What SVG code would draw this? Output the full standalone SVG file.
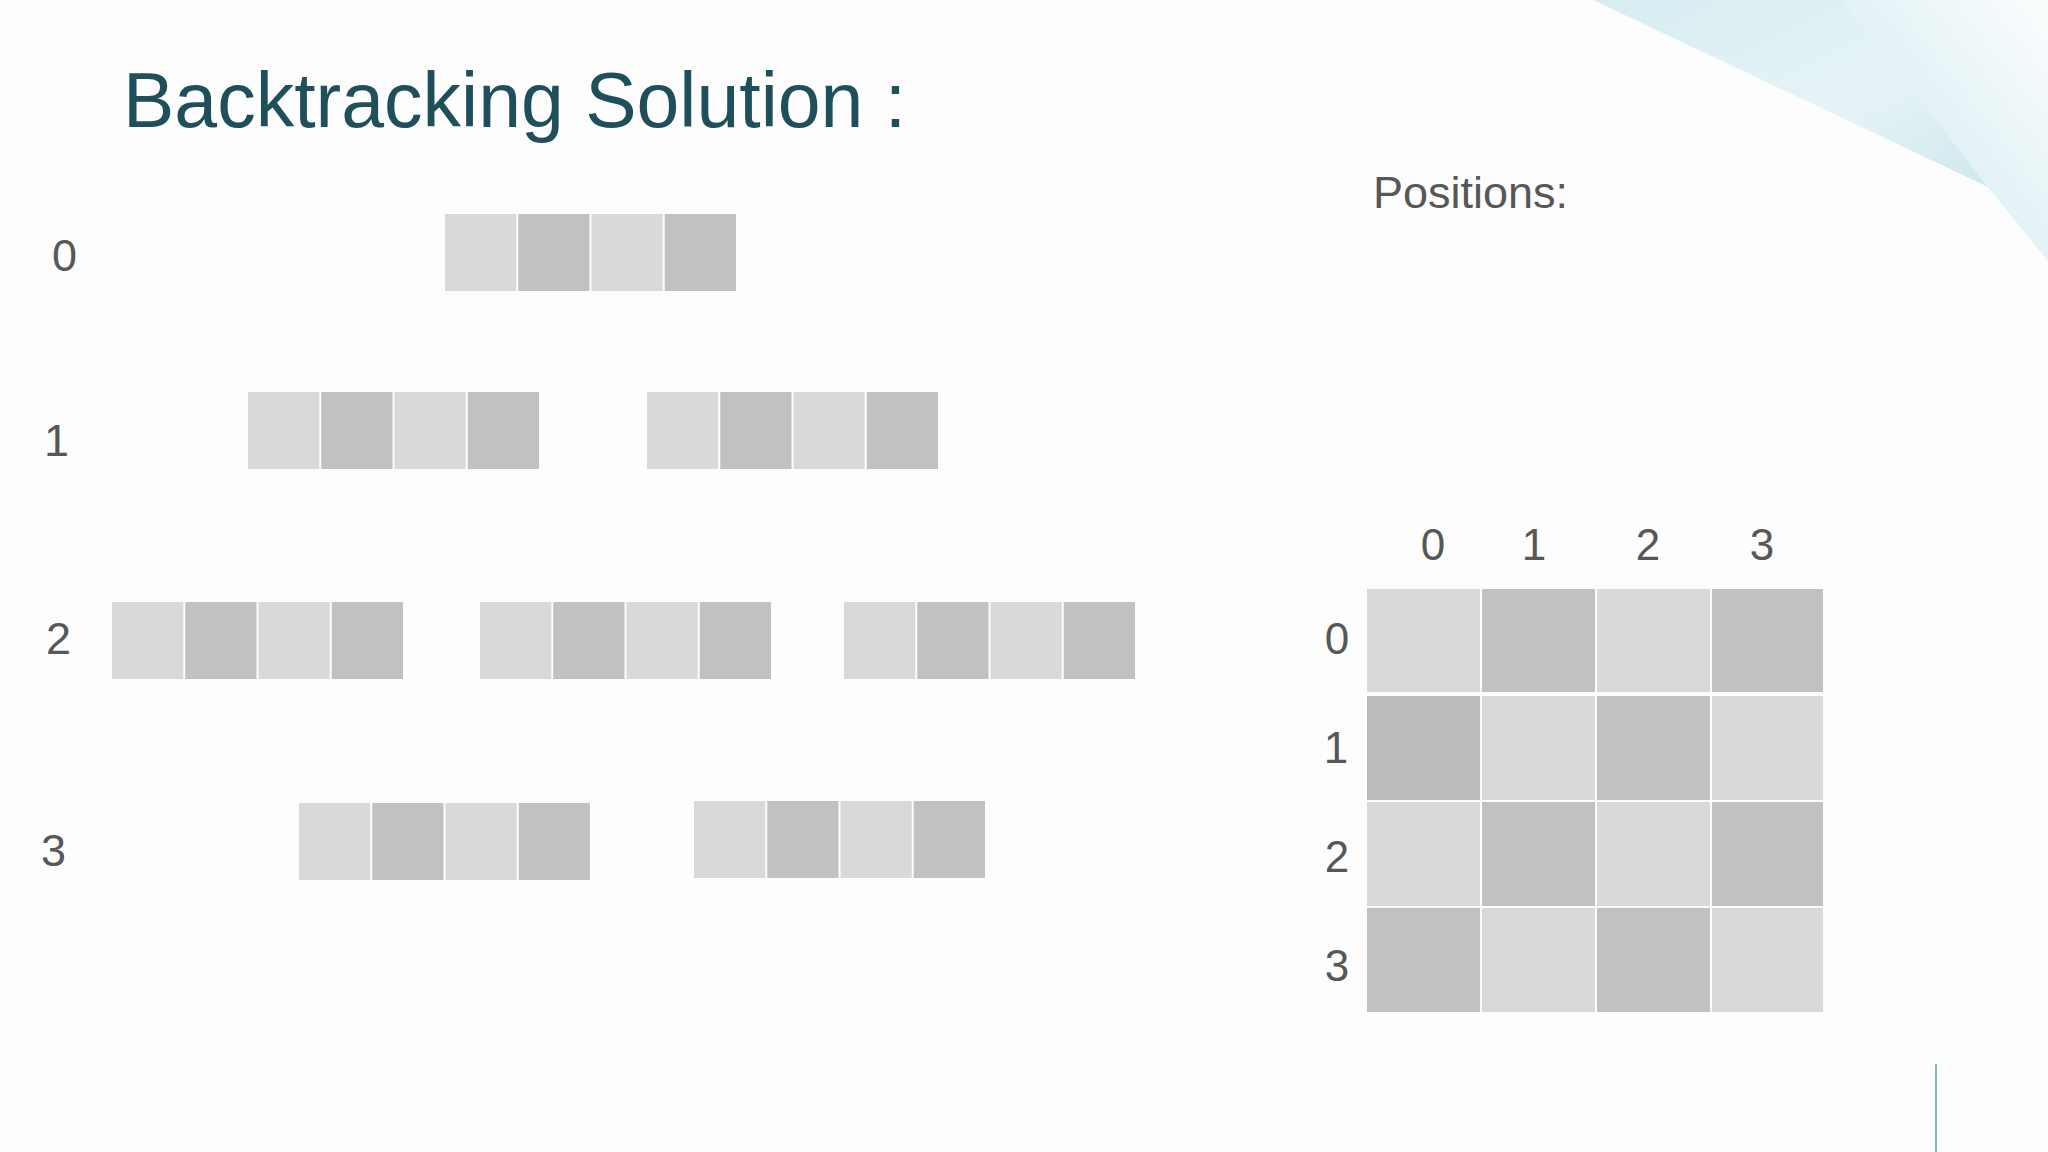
<svg xmlns="http://www.w3.org/2000/svg" xmlns:xlink="http://www.w3.org/1999/xlink" width="2048" height="1152" viewBox="0 0 2048 1152">
  <style>
    .t { font-family: "Liberation Sans", Arial, sans-serif; }
    .title { font-size: 77px; fill: #1e4f5b; }
    .lab { font-size: 45px; fill: #575757; }
    .glab { font-size: 44px; fill: #575757; }
    .pos { font-size: 45px; fill: #575757; }
    .l { fill: #d9d8db; }
    .d { fill: #c1c0c3; }
    .d2 { fill: #bbbabd; }
  </style>
  <defs>
    <linearGradient id="gA" x1="0" y1="0" x2="1" y2="1">
      <stop offset="0" stop-color="#d7edf2"/>
      <stop offset="0.6" stop-color="#e6f3f6"/>
      <stop offset="1" stop-color="#cfe8ee"/>
    </linearGradient>
    <linearGradient id="gB" x1="1" y1="0" x2="0" y2="1">
      <stop offset="0" stop-color="#fbfdfe"/>
      <stop offset="0.5" stop-color="#e3f2f5"/>
      <stop offset="1" stop-color="#c3e3ea"/>
    </linearGradient>
    <g id="strip">
      <rect class="l" x="0" y="0" width="71.25" height="77"/>
      <rect class="d" x="73.25" y="0" width="71.25" height="77"/>
      <rect class="l" x="146.5" y="0" width="71.25" height="77"/>
      <rect class="d" x="219.75" y="0" width="71.25" height="77"/>
    </g>
  </defs>

  <rect x="0" y="0" width="2048" height="1152" fill="#fdfdfd"/>

  <g id="decoration">
    <polygon points="1593,0 1843,0 1988,187" fill="url(#gA)"/>
    <polygon points="1843,0 2048,0 2048,261 1988,187" fill="url(#gB)"/>
    <line x1="1936" y1="1064" x2="1936" y2="1152" stroke="#4aa3b5" stroke-width="1.5"/>
  </g>

  <g id="title">
    <text class="t title" x="123" y="127">Backtracking Solution :</text>
  </g>

  <g id="level-labels">
    <text class="t lab" x="52" y="271">0</text>
    <text class="t lab" x="44" y="456">1</text>
    <text class="t lab" x="46" y="654">2</text>
    <text class="t lab" x="41" y="866">3</text>
  </g>

  <g id="level0">
    <use id="n0" href="#strip" x="445" y="214"/>
  </g>
  <g id="level1">
    <use id="n1a" href="#strip" x="248" y="392"/>
    <use id="n1b" href="#strip" x="647" y="392"/>
  </g>
  <g id="level2">
    <use id="n2a" href="#strip" x="112" y="602"/>
    <use id="n2b" href="#strip" x="480" y="602"/>
    <use id="n2c" href="#strip" x="844" y="602"/>
  </g>
  <g id="level3">
    <use id="n3a" href="#strip" x="299" y="803"/>
    <use id="n3b" href="#strip" x="694" y="801"/>
  </g>

  <g id="positions">
    <text class="t pos" x="1373" y="208">Positions:</text>
  </g>

  <g id="board-labels">
    <text class="t glab" x="1433" y="560" text-anchor="middle">0</text>
    <text class="t glab" x="1534" y="560" text-anchor="middle">1</text>
    <text class="t glab" x="1648" y="560" text-anchor="middle">2</text>
    <text class="t glab" x="1762" y="560" text-anchor="middle">3</text>
    <text class="t glab" x="1337" y="654" text-anchor="middle">0</text>
    <text class="t glab" x="1336" y="763" text-anchor="middle">1</text>
    <text class="t glab" x="1337" y="872" text-anchor="middle">2</text>
    <text class="t glab" x="1337" y="981" text-anchor="middle">3</text>
  </g>

  <g id="board">
    <rect class="l" x="1367" y="589" width="113" height="103"/>
    <rect class="d" x="1482" y="589" width="113" height="103"/>
    <rect class="l" x="1597" y="589" width="113" height="103"/>
    <rect class="d" x="1712" y="589" width="111" height="103"/>

    <rect class="d2" x="1367" y="696" width="113" height="104"/>
    <rect class="l" x="1482" y="696" width="113" height="104"/>
    <rect class="d" x="1597" y="696" width="113" height="104"/>
    <rect class="l" x="1712" y="696" width="111" height="104"/>

    <rect class="l" x="1367" y="802" width="113" height="104"/>
    <rect class="d" x="1482" y="802" width="113" height="104"/>
    <rect class="l" x="1597" y="802" width="113" height="104"/>
    <rect class="d" x="1712" y="802" width="111" height="104"/>

    <rect class="d" x="1367" y="908" width="113" height="104"/>
    <rect class="l" x="1482" y="908" width="113" height="104"/>
    <rect class="d" x="1597" y="908" width="113" height="104"/>
    <rect class="l" x="1712" y="908" width="111" height="104"/>
  </g>
</svg>
